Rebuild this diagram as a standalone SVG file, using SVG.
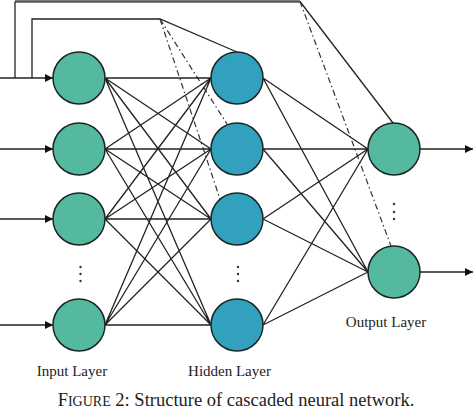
<svg xmlns="http://www.w3.org/2000/svg" width="474" height="411" viewBox="0 0 474 411">
<style>
.ln{stroke:#222;stroke-width:1.3;fill:none}
.dd{stroke:#333;stroke-width:1.2;fill:none;stroke-dasharray:6 3 1.5 3}
.in{fill:#54b99f;stroke:#1a2626;stroke-width:1.5}
.hd{fill:#31a1bd;stroke:#1a2626;stroke-width:1.5}
.dot{fill:#333}
.lbl{font-family:"Liberation Serif",serif;font-size:15px;fill:#222;text-anchor:middle}
.cap{font-family:"Liberation Serif",serif;font-size:18.5px;fill:#222;text-anchor:middle}
</style>
<defs>
<marker id="ah" viewBox="0 0 10 10" refX="10" refY="5" markerWidth="8" markerHeight="8" markerUnits="userSpaceOnUse" orient="auto">
<path d="M0,0 L10,5 L0,10 z" fill="#111"/>
</marker>
</defs>
<rect width="474" height="411" fill="#fff"/>
<g id="connectors">
<line x1="15" y1="1.5" x2="300" y2="1.5" stroke="#555" stroke-width="2.5"/>
<polyline class="ln" points="15,78 15,1.5"/>
<polyline class="ln" points="32,78 32,19 160,19 237,52"/>
<line class="ln" x1="300" y1="1.5" x2="393" y2="123"/>
<line class="dd" x1="300" y1="1.5" x2="391" y2="246"/>
<line class="dd" x1="160" y1="19" x2="227" y2="124"/>
<line class="dd" x1="160" y1="19" x2="220" y2="199"/>
<line class="ln" x1="0" y1="78" x2="53" y2="78" marker-end="url(#ah)"/>
<line class="ln" x1="0" y1="149" x2="53" y2="149" marker-end="url(#ah)"/>
<line class="ln" x1="0" y1="219" x2="53" y2="219" marker-end="url(#ah)"/>
<line class="ln" x1="0" y1="325" x2="53" y2="325" marker-end="url(#ah)"/>
<line class="ln" x1="420" y1="149" x2="473" y2="149" marker-end="url(#ah)"/>
<line class="ln" x1="420" y1="272" x2="473" y2="272" marker-end="url(#ah)"/>
<path class="ln" d="M105,78L211,78M105,78L211,149M105,78L211,219M105,78L211,325
M105,149L211,78M105,149L211,149M105,149L211,219M105,149L211,325
M105,219L211,78M105,219L211,149M105,219L211,219M105,219L211,325
M105,325L211,78M105,325L211,149M105,325L211,219M105,325L211,325"/>
<path class="ln" d="M263,78L368,149M263,78L368,272
M263,149L368,149M263,149L368,272
M263,219L368,149M263,219L368,272
M263,325L368,149M263,325L368,272"/>
</g>
<g id="input-layer">
<circle class="in" cx="79" cy="78" r="26"/>
<circle class="in" cx="79" cy="149" r="26"/>
<circle class="in" cx="79" cy="219" r="26"/>
<circle class="in" cx="79" cy="325" r="26"/>
<circle class="dot" cx="80.5" cy="267" r="1.2"/>
<circle class="dot" cx="80.5" cy="274" r="1.2"/>
<circle class="dot" cx="80.5" cy="281" r="1.2"/>
<text class="lbl" x="72" y="376">Input Layer</text>
</g>
<g id="hidden-layer">
<circle class="hd" cx="237" cy="78" r="26"/>
<circle class="hd" cx="237" cy="149" r="26"/>
<circle class="hd" cx="237" cy="219" r="26"/>
<circle class="hd" cx="237" cy="325" r="26"/>
<circle class="dot" cx="238" cy="267" r="1.2"/>
<circle class="dot" cx="238" cy="274" r="1.2"/>
<circle class="dot" cx="238" cy="281" r="1.2"/>
<text class="lbl" x="229.5" y="376">Hidden Layer</text>
</g>
<g id="output-layer">
<circle class="in" cx="394" cy="149" r="26"/>
<circle class="in" cx="394" cy="272" r="26"/>
<circle class="dot" cx="394" cy="204" r="1.2"/>
<circle class="dot" cx="394" cy="212" r="1.2"/>
<circle class="dot" cx="394" cy="219" r="1.2"/>
<text class="lbl" x="386" y="327">Output Layer</text>
</g>
<g id="caption">
<text class="cap" x="236" y="406"><tspan>F</tspan><tspan font-size="14">IGURE</tspan> 2: Structure of cascaded neural network.</text>
</g>
</svg>
